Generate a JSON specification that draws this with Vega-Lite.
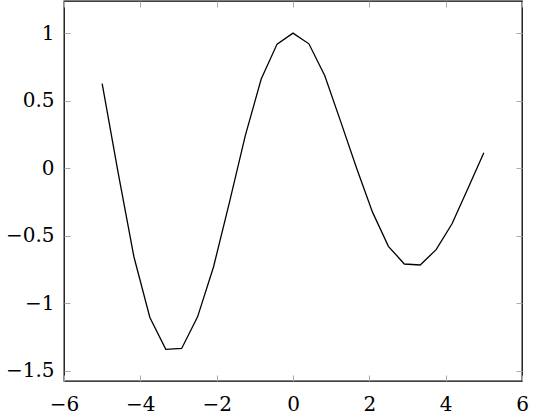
{
  "$schema": "https://vega.github.io/schema/vega-lite/v6.json",
  "autosize": {"type": "none"},
  "width": 458,
  "height": 380,
  "padding": {"left": 64, "top": 1, "right": 15, "bottom": 34},
  "data": {
    "values": [
      {"x": -5.0, "y": 0.626},
      {"x": -4.583, "y": -0.03},
      {"x": -4.167, "y": -0.657},
      {"x": -3.75, "y": -1.105},
      {"x": -3.333, "y": -1.341},
      {"x": -2.917, "y": -1.334},
      {"x": -2.5, "y": -1.1},
      {"x": -2.083, "y": -0.731},
      {"x": -1.667, "y": -0.255},
      {"x": -1.25, "y": 0.241},
      {"x": -0.833, "y": 0.66},
      {"x": -0.417, "y": 0.919},
      {"x": 0.0, "y": 1.0},
      {"x": 0.417, "y": 0.921},
      {"x": 0.833, "y": 0.685},
      {"x": 1.25, "y": 0.345},
      {"x": 1.667, "y": 0.0},
      {"x": 2.083, "y": -0.325},
      {"x": 2.5, "y": -0.578},
      {"x": 2.917, "y": -0.709},
      {"x": 3.333, "y": -0.716},
      {"x": 3.75, "y": -0.603},
      {"x": 4.167, "y": -0.411},
      {"x": 4.583, "y": -0.15},
      {"x": 5.0, "y": 0.114}
    ]
  },
  "layer": [
    {
      "mark": {"type": "line", "color": "black", "strokeWidth": 1.3},
      "encoding": {
        "x": {
          "field": "x", "type": "quantitative",
          "scale": {"domain": [-6, 6], "nice": false, "zero": false},
          "axis": {"orient": "bottom", "values": [-6, -4, -2, 0, 2, 4, 6], "format": "~g", "title": null, "grid": false, "domain": false,
            "tickSize": -6, "tickColor": "#aaa", "labelPadding": 19, "labelFont": "DejaVu Serif", "labelFontSize": 20, "labelColor": "black", "labelFlush": false}
        },
        "y": {
          "field": "y", "type": "quantitative",
          "scale": {"domain": [-1.575, 1.238], "nice": false, "zero": false},
          "axis": {"orient": "left", "values": [-1.5, -1, -0.5, 0, 0.5, 1], "format": "~g", "title": null, "grid": false, "domain": false,
            "tickSize": -6, "tickColor": "#aaa", "labelPadding": 16, "labelFont": "DejaVu Serif", "labelFontSize": 20, "labelColor": "black", "labelFlush": false}
        }
      }
    },
    {
      "mark": {"type": "line", "strokeOpacity": 0},
      "encoding": {
        "x": {
          "field": "x", "type": "quantitative",
          "axis": {"orient": "top", "values": [-6, -4, -2, 0, 2, 4, 6], "title": null, "grid": false, "domain": false, "labels": false,
            "tickSize": -6, "tickColor": "#aaa"}
        },
        "y": {
          "field": "y", "type": "quantitative",
          "axis": {"orient": "right", "values": [-1.5, -1, -0.5, 0, 0.5, 1], "title": null, "grid": false, "domain": false, "labels": false,
            "tickSize": -6, "tickColor": "#aaa"}
        }
      }
    }
  ],
  "resolve": {"axis": {"x": "independent", "y": "independent"}},
  "config": {"view": {"stroke": "black", "strokeWidth": 1.3}, "background": "white"}
}
